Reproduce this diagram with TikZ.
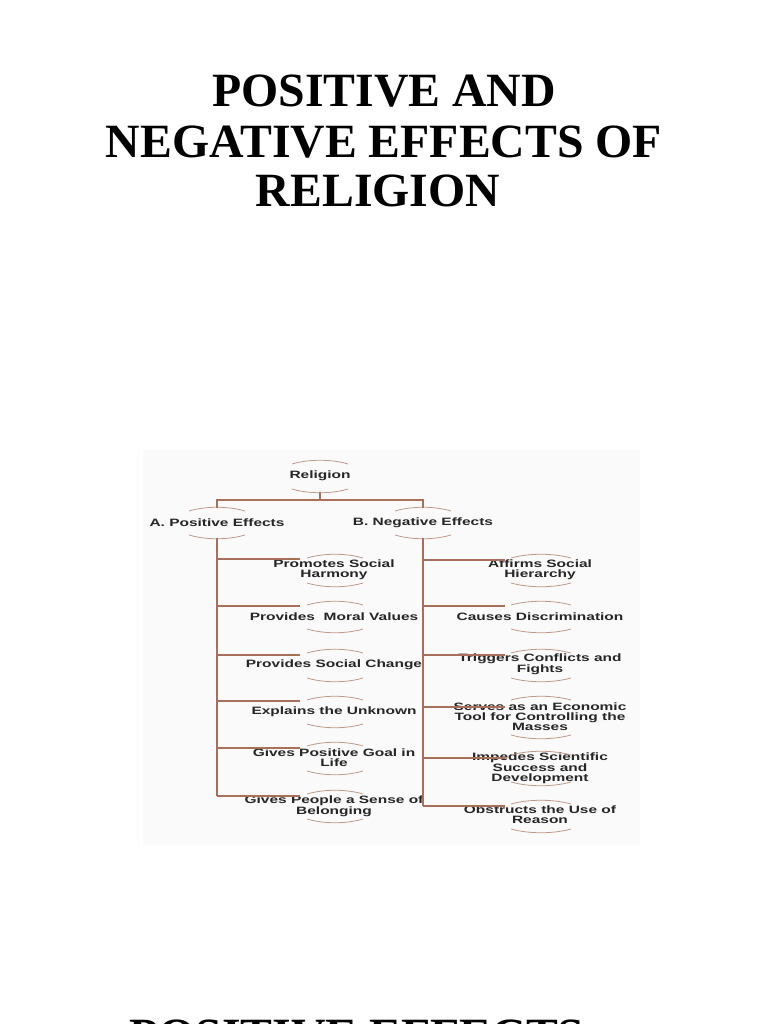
\documentclass[tikz,border=0pt]{standalone}
\usepackage{fontspec}
\setmainfont{Liberation Serif}
\newfontfamily\dsans{Liberation Sans}
\definecolor{brn}{HTML}{A8705A}
\definecolor{arcc}{HTML}{C09888}
\newcommand\myarcs[4]{%
 \draw[arcc,line width=0.6pt] (#1-#4,#2+3) .. controls (#1-#4*0.4,#2-2) and (#1+#4*0.4,#2-2) .. (#1+#4,#2+3);
 \draw[arcc,line width=0.6pt] (#1-#4,#3-3) .. controls (#1-#4*0.4,#3+2) and (#1+#4*0.4,#3+2) .. (#1+#4,#3-3);}
\begin{document}
\begin{tikzpicture}[x=0.75pt,y=-0.75pt,
 lbl/.style={font=\dsans\bfseries\fontsize{8}{7.4}\selectfont,align=center,inner sep=0pt,text=black!85,xscale=1.45},
 ttl/.style={font=\bfseries\fontsize{35.8}{38}\selectfont,inner sep=0pt},
 ln/.style={brn,line width=0.9pt}]
\clip (0,0) rectangle (768,1024);
\fill[white] (0,0) rectangle (768,1024);
\fill[black!2] (143,450) rectangle (640,845);
\node[ttl] (t1) at (384,91) {POSITIVE AND};
\node[ttl] (t2) at (384,142) {NEGATIVE EFFECTS OF};
\node[ttl] (t3) at (378,191) {RELIGION};
\node[ttl] (t4) at (357,1036) {POSITIVE EFFECTS};
% top
\node[lbl] (rel) at (320,476) {Religion};
\myarcs{320}{461}{492}{28}
\node[lbl] (pos) at (217,523) {A. Positive Effects};
\myarcs{217}{508}{538}{28}
\node[lbl] (neg) at (423,523) {B. Negative Effects};
\myarcs{423}{508}{538}{28}
\coordinate (rb) at (320,492);
\coordinate (rj) at (320,500);
\draw[ln] (rb) -- (rj);
\draw[ln] (pos.north |- 0,508) |- (rj) -| (neg.north |- 0,508);
% left
\coordinate (lt) at (217,538);
\foreach \y/\ty/\a/\b/\t [count=\i] in {
 559/570/555/586/{Promotes Social\\Harmony},
 606/617/602/632/{Provides\ \ Moral Values},
 655/665/650/681/{Provides Social Change},
 701/712/697/727/{Explains the Unknown},
 748/758/743/774/{Gives Positive Goal in\\Life},
 796/806/791/822/{Gives People a Sense of\\Belonging}}{
 \node[lbl] (l\i) at (334,\ty) {\t};
 \myarcs{335}{\a}{\b}{28}
 \coordinate (lb\i) at (217,\y);
 \draw[ln] (lb\i) -- (300,\y);
}
\draw[ln] (lt) -- (lb6);
% right
\coordinate (rt) at (423,538);
\foreach \y/\ty/\a/\b/\t [count=\i] in {
 560/570/555/586/{Affirms Social\\Hierarchy},
 606/617/602/632/{Causes Discrimination},
 655/664/650/681/{Triggers Conflicts and\\Fights},
 707/717/697/738/{Serves as an Economic\\Tool for Controlling the\\Masses},
 758/768/752/785/{Impedes Scientific\\Success and\\Development},
 806/815/801/832/{Obstructs the Use of\\Reason}}{
 \node[lbl] (r\i) at (540,\ty) {\t};
 \myarcs{541}{\a}{\b}{30}
 \coordinate (rb\i) at (423,\y);
 \draw[ln] (rb\i) -- (505,\y);
}
\draw[ln] (rt) -- (rb6);
\end{tikzpicture}
\end{document}
